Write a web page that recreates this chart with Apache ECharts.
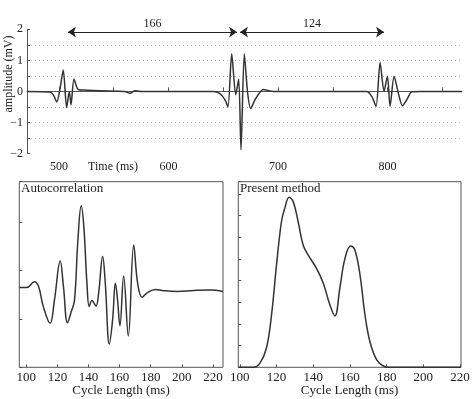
<!DOCTYPE html>
<html><head><meta charset="utf-8">
<script src="https://cdn.jsdelivr.net/npm/echarts@6/dist/echarts.min.js"></script>
<style>html,body{margin:0;padding:0;background:#fff}#c{width:474px;height:399px}</style>
</head><body><div id="c"></div>
<script>
// ECG trace (top)
const ecgT = [470.8, 491.8, 495, 498, 501, 503.9, 507, 509.4, 511, 513.7, 517.6, 525.3, 537.4, 560, 564.8, 569.4, 574, 598.4, 641, 647, 651.6, 654.3, 657.7, 661.4, 664.1, 666.2, 669.2, 672.3, 675.1, 679, 686.6, 695.7, 750.5, 781, 785.6, 789.5, 793.2, 796.8, 799.9, 802.3, 806, 809.9, 813.6, 817.6, 822.2, 829.8, 867.8];
const ecgV = [0, -0.02, -0.12, -0.34, 0.1, 0.69, -0.52, 0.0, -0.43, 0.40, 0.06, 0.04, 0.02, 0, -0.06, 0.02, 0, 0, 0, -0.07, -0.27, -0.50, 1.21, -0.11, 0.40, -1.88, 1.21, -0.06, -0.55, -0.27, 0.06, 0, 0, 0, -0.16, -0.48, 0.93, 0, 0.49, -0.48, 0.49, -0.06, -0.46, -0.27, -0.01, 0, 0];
// Autocorrelation (bottom left)
const acX = [95.5, 100.3, 105.2, 107.8, 111.0, 115.3, 118.1, 121.8, 123.9, 126.5, 128.9, 131.0, 133.2, 135.3, 137.0, 139.0, 140.5, 142.2, 144.8, 146.5, 149.1, 150.8, 153.4, 155.5, 157.3, 158.7, 160.2, 162.6, 165.6, 169.1, 171.6, 174.5, 177.7, 183.1, 187.4, 197.1, 207.8, 218.5, 226.5];
const acY = [1.65, 1.65, 1.77, 1.68, 1.25, 0.91, 1.39, 2.20, 1.67, 0.92, 1.15, 1.39, 2.64, 3.34, 2.91, 1.74, 1.26, 1.38, 1.27, 1.53, 2.29, 1.74, 0.48, 0.98, 1.74, 1.39, 0.86, 1.89, 0.65, 2.53, 1.74, 1.45, 1.54, 1.61, 1.59, 1.57, 1.59, 1.60, 1.57];
// Present method (bottom right)
const pmX = [99.2, 107.3, 110.9, 114.5, 117.3, 120.0, 122.7, 124.5, 126.9, 129.1, 131.8, 134.5, 137.3, 141.8, 145.5, 149.1, 151.8, 154.5, 157.3, 160.4, 162.7, 165.5, 168.2, 170.9, 174.6, 178.2, 181.8, 220.5];
const pmY = [0, 0, 0.18, 0.88, 2.42, 4.72, 6.72, 7.34, 7.85, 7.65, 6.72, 5.65, 5.18, 4.57, 3.88, 2.88, 2.37, 3.65, 5.03, 5.60, 5.42, 4.26, 2.42, 1.18, 0.34, 0.06, 0, 0];
// Axis tick labels
const topXTicks = [500, 550, 600, 650, 700, 750, 800, 850];
const topXLabels = [500, 600, 700, 800];
const cycleTicks = [100, 120, 140, 160, 180, 200, 220];
// Annotated intervals
const intervals = [{from: 508.2, to: 662.6, label: '166'}, {from: 665.3, to: 796.8, label: '124'}];
const arrowLevel = 1.91;

const zip = (a, b) => a.map((v, i) => [v, b[i]]);
const F = 'Liberation Serif';
const ink = '#222';

const chart = echarts.init(document.getElementById('c'), null, {renderer: 'canvas'});
chart.setOption({
  animation: false,
  textStyle: {fontFamily: F},
  grid: [
    {left: 27, top: 29.3, width: 435, height: 124.2, show: false},
    {left: 19.3, top: 181.7, width: 203.7, height: 185.6, show: true, borderColor: '#555', borderWidth: 1},
    {left: 238.3, top: 181.7, width: 222.7, height: 185.6, show: true, borderColor: '#555', borderWidth: 1}
  ],
  xAxis: [
    {gridIndex: 0, type: 'value', min: 470.8, max: 868, offset: 3,
     axisLine: {show: true, lineStyle: {color: '#555', width: 1}},
     axisTick: {show: true, inside: true, length: 4, customValues: topXTicks, lineStyle: {color: '#555'}},
     axisLabel: {customValues: topXLabels, fontSize: 12, margin: 4, color: ink, fontFamily: F},
     splitLine: {show: false}},
    {gridIndex: 1, type: 'value', min: 95.5, max: 226.5,
     axisLine: {show: false},
     axisTick: {show: true, inside: true, length: 3, customValues: cycleTicks, lineStyle: {color: '#555'}},
     axisLabel: {customValues: cycleTicks, fontSize: 13, margin: 4, color: ink, fontFamily: F},
     splitLine: {show: false}},
    {gridIndex: 2, type: 'value', min: 99.2, max: 220.5,
     axisLine: {show: false},
     axisTick: {show: true, inside: true, length: 3, customValues: cycleTicks, lineStyle: {color: '#555'}},
     axisLabel: {customValues: cycleTicks, fontSize: 13, margin: 4, color: ink, fontFamily: F},
     splitLine: {show: false}}
  ],
  yAxis: [
    {gridIndex: 0, type: 'value', min: -2, max: 2, interval: 0.5,
     axisLine: {show: true, lineStyle: {color: '#555', width: 1}},
     axisTick: {show: true, inside: true, length: 3, lineStyle: {color: '#555'}},
     axisLabel: {fontSize: 12, margin: 4, color: ink, fontFamily: F,
       formatter: v => Number.isInteger(v) ? String(v).replace('-', '\u2212') : ''},
     splitLine: {show: true, showMinLine: false, showMaxLine: false,
       lineStyle: {color: '#bbb', type: [1, 3], width: 1}}},
    {gridIndex: 1, type: 'value', min: 0, max: 3.84, interval: 1,
     axisLine: {show: false},
     axisTick: {show: true, inside: true, length: 3, lineStyle: {color: '#555'}},
     axisLabel: {show: false}, splitLine: {show: false}},
    {gridIndex: 2, type: 'value', min: 0, max: 8.57, interval: 1,
     axisLine: {show: false},
     axisTick: {show: true, inside: true, length: 3, lineStyle: {color: '#555'}},
     axisLabel: {show: false}, splitLine: {show: false}}
  ],
  series: [
    {type: 'line', xAxisIndex: 0, yAxisIndex: 0, data: zip(ecgT, ecgV), showSymbol: false, smooth: 0.25,
     lineStyle: {color: '#333', width: 1.5},
     markLine: {silent: true, symbol: ['arrow', 'arrow'], symbolSize: 8,
       lineStyle: {color: ink, type: 'solid', width: 1},
       label: {show: true, position: 'middle', distance: 2, color: ink, fontSize: 12, fontFamily: F},
       data: intervals.map(d => [
         {coord: [d.from, arrowLevel], name: d.label, label: {formatter: d.label}},
         {coord: [d.to, arrowLevel]}
       ])}},
    {type: 'line', xAxisIndex: 1, yAxisIndex: 1, data: zip(acX, acY), showSymbol: false, smooth: 0.4,
     lineStyle: {color: '#333', width: 1.5}},
    {type: 'line', xAxisIndex: 2, yAxisIndex: 2, data: zip(pmX, pmY), showSymbol: false, smooth: 0.4,
     lineStyle: {color: '#333', width: 1.5}}
  ],
  graphic: [
    {type: 'text', x: 9, y: 74, rotation: Math.PI / 2,
     style: {text: 'amplitude (mV)', fill: ink, font: '12px "Liberation Serif"', align: 'center', verticalAlign: 'middle'}},
    {type: 'text', x: 113, y: 167,
     style: {text: 'Time (ms)', fill: ink, font: '12px "Liberation Serif"', align: 'center', verticalAlign: 'middle'}},
    {type: 'text', x: 21, y: 189,
     style: {text: 'Autocorrelation', fill: ink, font: '13px "Liberation Serif"', align: 'left', verticalAlign: 'middle'}},
    {type: 'text', x: 240, y: 189,
     style: {text: 'Present method', fill: ink, font: '13px "Liberation Serif"', align: 'left', verticalAlign: 'middle'}},
    {type: 'text', x: 121, y: 391,
     style: {text: 'Cycle Length (ms)', fill: ink, font: '13px "Liberation Serif"', align: 'center', verticalAlign: 'middle'}},
    {type: 'text', x: 349.6, y: 391,
     style: {text: 'Cycle Length (ms)', fill: ink, font: '13px "Liberation Serif"', align: 'center', verticalAlign: 'middle'}}
  ]
});
</script>
</body></html>
